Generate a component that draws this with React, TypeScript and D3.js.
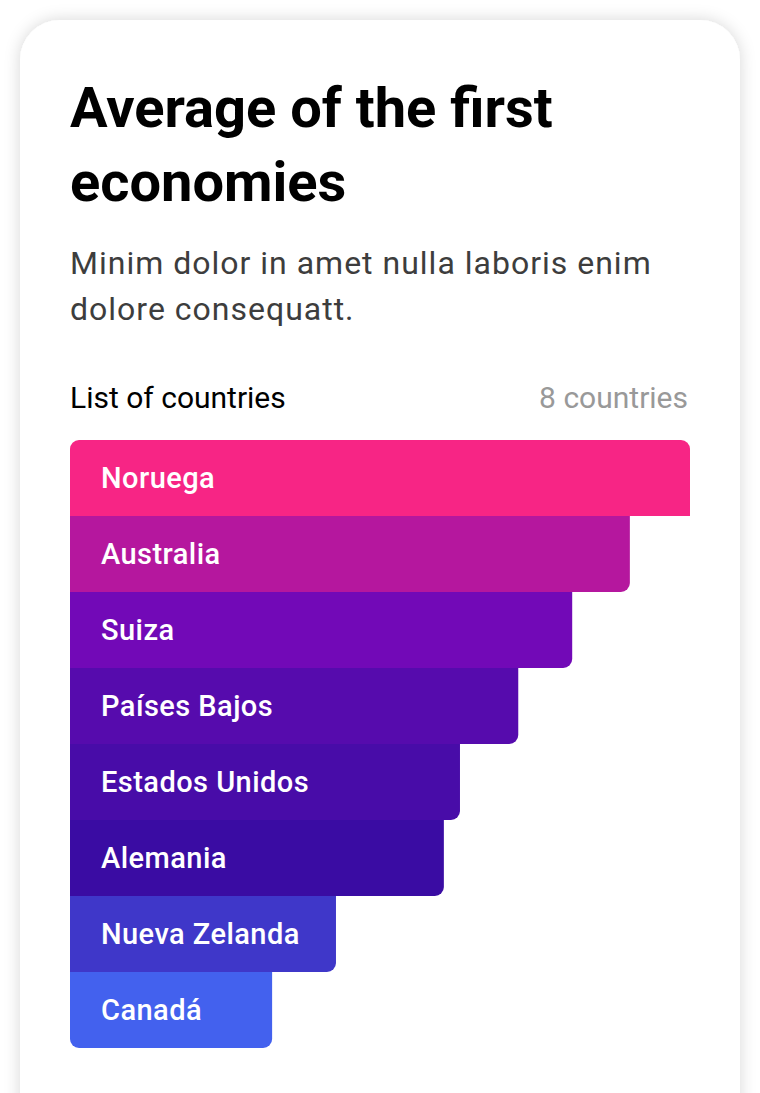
import React from "react";
import * as d3 from "d3";

const countries = ["Noruega", "Australia", "Suiza", "Países Bajos", "Estados Unidos", "Alemania", "Nueva Zelanda", "Canadá"];
const values = [100, 90.3, 81, 72.3, 62.9, 60.3, 42.9, 32.6];
const colors = ["#F72585", "#B5179E", "#7209B7", "#560BAD", "#480CA8", "#3A0CA3", "#3F37C9", "#4361EE"];
const titleLines = ["Average of the first", "economies"];
const subtitleLines = ["Minim dolor in amet nulla laboris enim", "dolore consequatt."];
const listLabel = "List of countries";
const countLabel = `${countries.length} countries`;

function barPath(x0: number, y0: number, w: number, h: number, r: { tl: number; tr: number; br: number; bl: number }) {
  const p = d3.path();
  p.moveTo(x0 + r.tl, y0);
  p.lineTo(x0 + w - r.tr, y0);
  if (r.tr) p.arcTo(x0 + w, y0, x0 + w, y0 + r.tr, r.tr);
  p.lineTo(x0 + w, y0 + h - r.br);
  if (r.br) p.arcTo(x0 + w, y0 + h, x0 + w - r.br, y0 + h, r.br);
  p.lineTo(x0 + r.bl, y0 + h);
  if (r.bl) p.arcTo(x0, y0 + h, x0, y0 + h - r.bl, r.bl);
  p.lineTo(x0, y0 + r.tl);
  if (r.tl) p.arcTo(x0, y0, x0 + r.tl, y0, r.tl);
  p.closePath();
  return p.toString();
}

export default function App() {
  const W = 760, H = 1093;
  const left = 70;
  const top = 440;
  const x = d3.scaleLinear().domain([0, d3.max(values) as number]).range([0, 620]);
  const y = d3.scaleBand<string>().domain(countries).range([top, top + 76 * countries.length]).padding(0);
  const R = 9;
  const n = countries.length;
  const font = "Roboto, 'Noto Sans', sans-serif";

  return (
    <svg width={W} height={H} style={{ position: "absolute", left: 0, top: 0 }}>
      <defs>
        <filter id="shadow" x="-10%" y="-10%" width="120%" height="120%">
          <feDropShadow dx="0" dy="0" stdDeviation="8" floodColor="#000" floodOpacity="0.16" />
        </filter>
      </defs>
      <rect x={0} y={0} width={W} height={H} fill="#ffffff" />
      <rect x={20} y={20} width={720} height={1140} rx={40} ry={40} fill="#ffffff" filter="url(#shadow)" />
      <text fontFamily={font} fontWeight={700} fontSize={56} fill="#000">
        {titleLines.map((t, i) => (
          <tspan key={i} x={left} y={127 + i * 74}>{t}</tspan>
        ))}
      </text>
      <text fontFamily={font} fontWeight={400} fontSize={32} fill="#3d3d3d" letterSpacing={1}>
        {subtitleLines.map((t, i) => (
          <tspan key={i} x={left} y={274 + i * 46}>{t}</tspan>
        ))}
      </text>
      <text x={left} y={408} fontFamily={font} fontSize={30} fill="#000">{listLabel}</text>
      <text x={688} y={408} fontFamily={font} fontSize={30} fill="#999" textAnchor="end">{countLabel}</text>
      {countries.map((c, i) => {
        const y0 = y(c) as number;
        const h = y.bandwidth();
        const w = x(values[i]);
        const r = {
          tl: i === 0 ? R : 0,
          tr: i === 0 ? R : 0,
          br: i === 0 ? 0 : R,
          bl: i === n - 1 ? R : 0,
        };
        return (
          <g key={c}>
            <path d={barPath(left, y0, w, h, r)} fill={colors[i]} />
            <text x={left + 31} y={y0 + h / 2 + 10} fontFamily={font} fontWeight={500} fontSize={29} letterSpacing={0.45} fill="#fff">{c}</text>
          </g>
        );
      })}
    </svg>
  );
}
